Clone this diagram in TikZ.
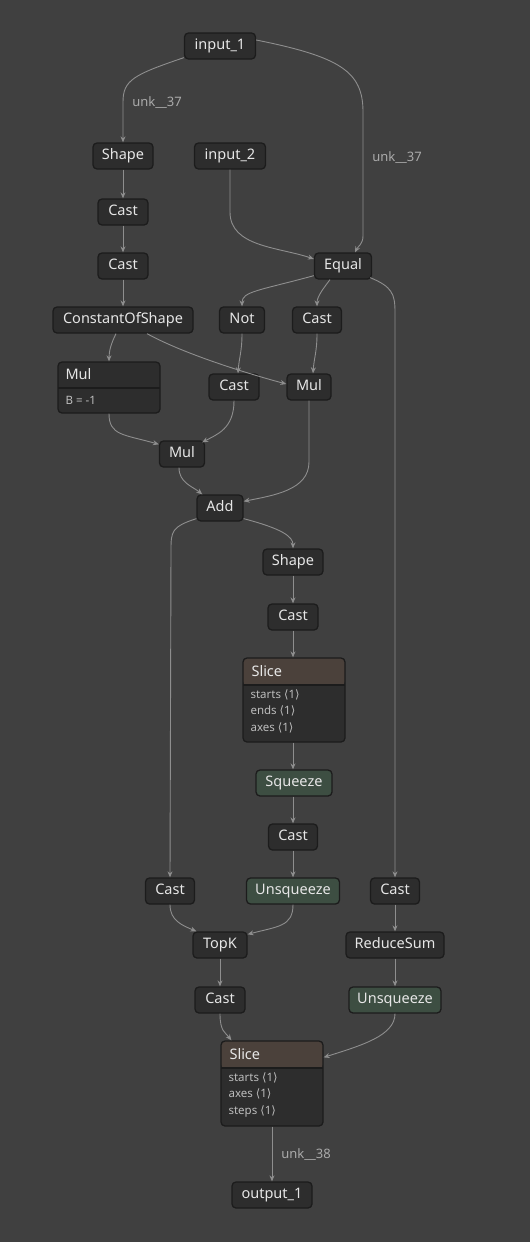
\documentclass[tikz,border=0pt]{standalone}
\usepackage{fontspec}
\setmainfont{Noto Sans}
\newfontfamily\brackfont{DejaVu Sans}
\usepackage{xcolor}
\definecolor{canvas}{HTML}{404040}
\definecolor{opfill}{HTML}{2D2D2D}
\definecolor{opline}{HTML}{1C1C1C}
\definecolor{optext}{HTML}{E6E6E6}
\definecolor{edge}{HTML}{8E8E8E}
\definecolor{edgetext}{HTML}{AAAAAA}
\definecolor{slicehead}{HTML}{4B413B}
\definecolor{shapeop}{HTML}{3D4E42}
\definecolor{attrtext}{HTML}{BDBDBD}
\usetikzlibrary{positioning,calc,arrows.meta}
\newcommand{\lr}[1]{{\brackfont\mdseries\char"27E8}#1{\brackfont\mdseries\char"27E9}}

\begin{document}
\begin{tikzpicture}[x=1pt,y=-1pt,font=\fontsize{14.5}{17}\selectfont,
  op/.style={draw=opline,line width=1.3pt,rounded corners=4pt,fill=opfill,text=optext,minimum height=26pt,inner xsep=4pt,inner ysep=0pt,text height=10.5pt,text depth=3pt},
  shapeop/.style={op,fill=shapeop},
  attrbox/.style={op,text height=,text depth=},
  optitle/.style={text=optext,inner sep=0pt,anchor=west},
  attr/.style={text=attrtext,inner sep=0pt,anchor=north west,align=left,font=\fontsize{11.5}{16.5}\selectfont},
  flow/.style={draw=edge,line width=0.9pt,-{Stealth[length=6pt,width=5pt]}},
  lbl/.style={text=edgetext,font=\fontsize{13}{15}\selectfont,inner sep=0pt}]
  \fill[canvas] (0,0) rectangle (530,1242);
  \useasboundingbox (0,0) rectangle (530,1242);
  % inputs
  \node[op,minimum width=71pt] (in1) at (220,46) {input\_1};
  \node[op,minimum width=60pt] (sh1) at (123,156) {Shape};
  \node[op,minimum width=71pt] (in2) at (230,156) {input\_2};
  \node[op,minimum width=50pt] (c1) at (123,212) {Cast};
  \node[op,minimum width=50pt] (c2) at (123,266) {Cast};
  \node[op,minimum width=57pt] (eq) at (343,266) {Equal};
  \node[op,minimum width=140pt] (cos) at (123,320) {ConstantOfShape};
  \node[op,minimum width=45pt] (not) at (242,320) {Not};
  \node[op,minimum width=49pt] (c3) at (317,320) {Cast};
  % Mul with attribute B
  \node[attrbox,minimum width=102pt,minimum height=51pt,
    path picture={\draw[opline,line width=1.3pt] ([yshift=-26pt]path picture bounding box.north west) -- ([yshift=-26pt]path picture bounding box.north east);}] (mulb) at (109,387.5) {};
  \node[optitle] (mulbt) at ([xshift=8pt,yshift=-13pt]mulb.north west) {Mul};
  \node[attr,font=\fontsize{11.5}{13}\selectfont,anchor=west] (mulba) at ([xshift=8pt,yshift=-39pt]mulb.north west) {B = -1};
  \node[op,minimum width=50pt] (c4) at (234,387) {Cast};
  \node[op,minimum width=44pt] (mul2) at (309,387) {Mul};
  \node[op,minimum width=45pt] (mul3) at (182,454) {Mul};
  \node[op,minimum width=46pt] (add) at (220,508) {Add};
  % shape branch
  \node[op,minimum width=60pt] (sh2) at (293,562) {Shape};
  \node[op,minimum width=50pt] (c5) at (293,617) {Cast};
  \node[attrbox,minimum width=102pt,minimum height=84pt,
    path picture={\fill[slicehead] (path picture bounding box.north west) rectangle ([yshift=-27pt]path picture bounding box.north east);
      \draw[opline,line width=1.3pt] ([yshift=-27pt]path picture bounding box.north west) -- ([yshift=-27pt]path picture bounding box.north east);}] (sl1) at (294,700) {};
  \node[optitle] (sl1t) at ([xshift=9pt,yshift=-13.5pt]sl1.north west) {Slice};
  \node[attr] (sl1a) at ([xshift=8pt,yshift=-32pt]sl1.north west) {\textbf{starts} \lr{1}\\\textbf{ends} \lr{1}\\\textbf{axes} \lr{1}};
  \node[shapeop,minimum width=76pt] (sq) at (294,783) {Squeeze};
  \node[op,minimum width=49pt] (c6) at (293,837) {Cast};
  \node[op,minimum width=49pt] (c7) at (170,891) {Cast};
  \node[shapeop,minimum width=93pt] (usq1) at (293,891) {Unsqueeze};
  \node[op,minimum width=49pt] (c8) at (395,891) {Cast};
  \node[op,minimum width=54pt] (topk) at (220,945) {TopK};
  \node[op,minimum width=98pt] (rs) at (395,945) {ReduceSum};
  \node[op,minimum width=50pt] (c9) at (220,1000) {Cast};
  \node[shapeop,minimum width=92pt] (usq2) at (395,1000) {Unsqueeze};
  \node[attrbox,minimum width=102pt,minimum height=85pt,
    path picture={\fill[slicehead] (path picture bounding box.north west) rectangle ([yshift=-27pt]path picture bounding box.north east);
      \draw[opline,line width=1.3pt] ([yshift=-27pt]path picture bounding box.north west) -- ([yshift=-27pt]path picture bounding box.north east);}] (sl2) at (272,1083.5) {};
  \node[optitle] (sl2t) at ([xshift=9pt,yshift=-13.5pt]sl2.north west) {Slice};
  \node[attr] (sl2a) at ([xshift=8pt,yshift=-32pt]sl2.north west) {\textbf{starts} \lr{1}\\\textbf{axes} \lr{1}\\\textbf{steps} \lr{1}};
  \node[op,minimum width=80pt] (out) at (272,1195) {output\_1};
  % edge labels
  \node[lbl] (l1) at (157,103) {unk\_\_37};
  \node[lbl] (l2) at (397,158) {unk\_\_37};
  \node[lbl] (l3) at (306,1155) {unk\_\_38};
  % connectors
  \draw[flow] ([yshift=2pt]in1.south west) .. controls +(-50,17) and +(0,-22) .. (123,102) -- (sh1.north);
  \draw[flow] ([yshift=6pt]in1.east) .. controls +(85,17) and +(0,-40) .. (363,112) -- (363,236) .. controls +(0,8) and +(3,-6) .. ([xshift=12pt]eq.north);
  \draw[flow] (in2.south) -- (230,212) .. controls +(0,35) and +(-35,-12) .. ([yshift=7pt]eq.west);
  \draw[flow] (sh1) -- (c1);
  \draw[flow] (c1) -- (c2);
  \draw[flow] (c2) -- (cos);
  \draw[flow] ([yshift=4pt]eq.south west) .. controls +(-55,15) and +(0,-15) .. (not.north);
  \draw[flow] ([xshift=-13pt]eq.south) .. controls +(-6,8) and +(0,-10) .. (c3.north);
  \draw[flow] ([xshift=-2pt,yshift=2pt]eq.south east) .. controls +(22,9) and +(0,-18) .. (395,312) -- (c8.north);
  \draw[flow] ([xshift=-7pt]cos.south) .. controls +(-5,10) and +(0,-10) .. (mulb.north);
  \draw[flow] ([xshift=24pt]cos.south) .. controls +(40,22) and +(-30,-8) .. ([yshift=3pt]mul2.west);
  \draw[flow] (not.south) .. controls +(0,18) and +(1,-15) .. ([xshift=4pt]c4.north);
  \draw[flow] (c3.south) .. controls +(0,18) and +(1,-15) .. ([xshift=4pt]mul2.north);
  \draw[flow] (mulb.south) .. controls +(0,22) and +(-35,-10) .. ([yshift=-4pt]mul3.north west);
  \draw[flow] (c4.south) .. controls +(0,28) and +(15,-8) .. ([xshift=-3pt,yshift=-2pt]mul3.north east);
  \draw[flow] ([xshift=-3pt]mul3.south) .. controls +(0,15) and +(-10,-8) .. ([xshift=6pt]add.north west);
  \draw[flow] (mul2.south) -- (309,462) .. controls +(0,28) and +(30,-6) .. ([yshift=-7pt]add.north east);
  \draw[flow] ([yshift=3pt]add.south west) .. controls +(-25,8) and +(0,-18) .. (171,550) -- (c7.north);
  \draw[flow] ([yshift=3pt]add.south east) .. controls +(38,10) and +(0,-12) .. (sh2.north);
  \draw[flow] (sh2) -- (c5);
  \draw[flow] (c5.south) -- (c5.south |- sl1.north);
  \draw[flow] (c5.south |- sl1.south) -- (sq.north -| c5.south);
  \draw[flow] (sq.south -| c5.south) -- (c6.north);
  \draw[flow] (c6) -- (usq1);
  \draw[flow] (c7.south) .. controls +(0,16) and +(-14,-6) .. ([xshift=4pt]topk.north west);
  \draw[flow] (usq1.south) .. controls +(0,22) and +(30,-8) .. ([yshift=-3pt]topk.north east);
  \draw[flow] (c8) -- (rs);
  \draw[flow] (rs) -- (usq2);
  \draw[flow] (topk) -- (c9);
  \draw[flow] (c9.south) .. controls +(0,18) and +(-6,-8) .. ([xshift=11pt]sl2.north west);
  \draw[flow] (usq2.south) .. controls +(0,22) and +(38,-12) .. ([yshift=-17pt]sl2.north east);
  \draw[flow] (sl2) -- (out);
\end{tikzpicture}
\end{document}
